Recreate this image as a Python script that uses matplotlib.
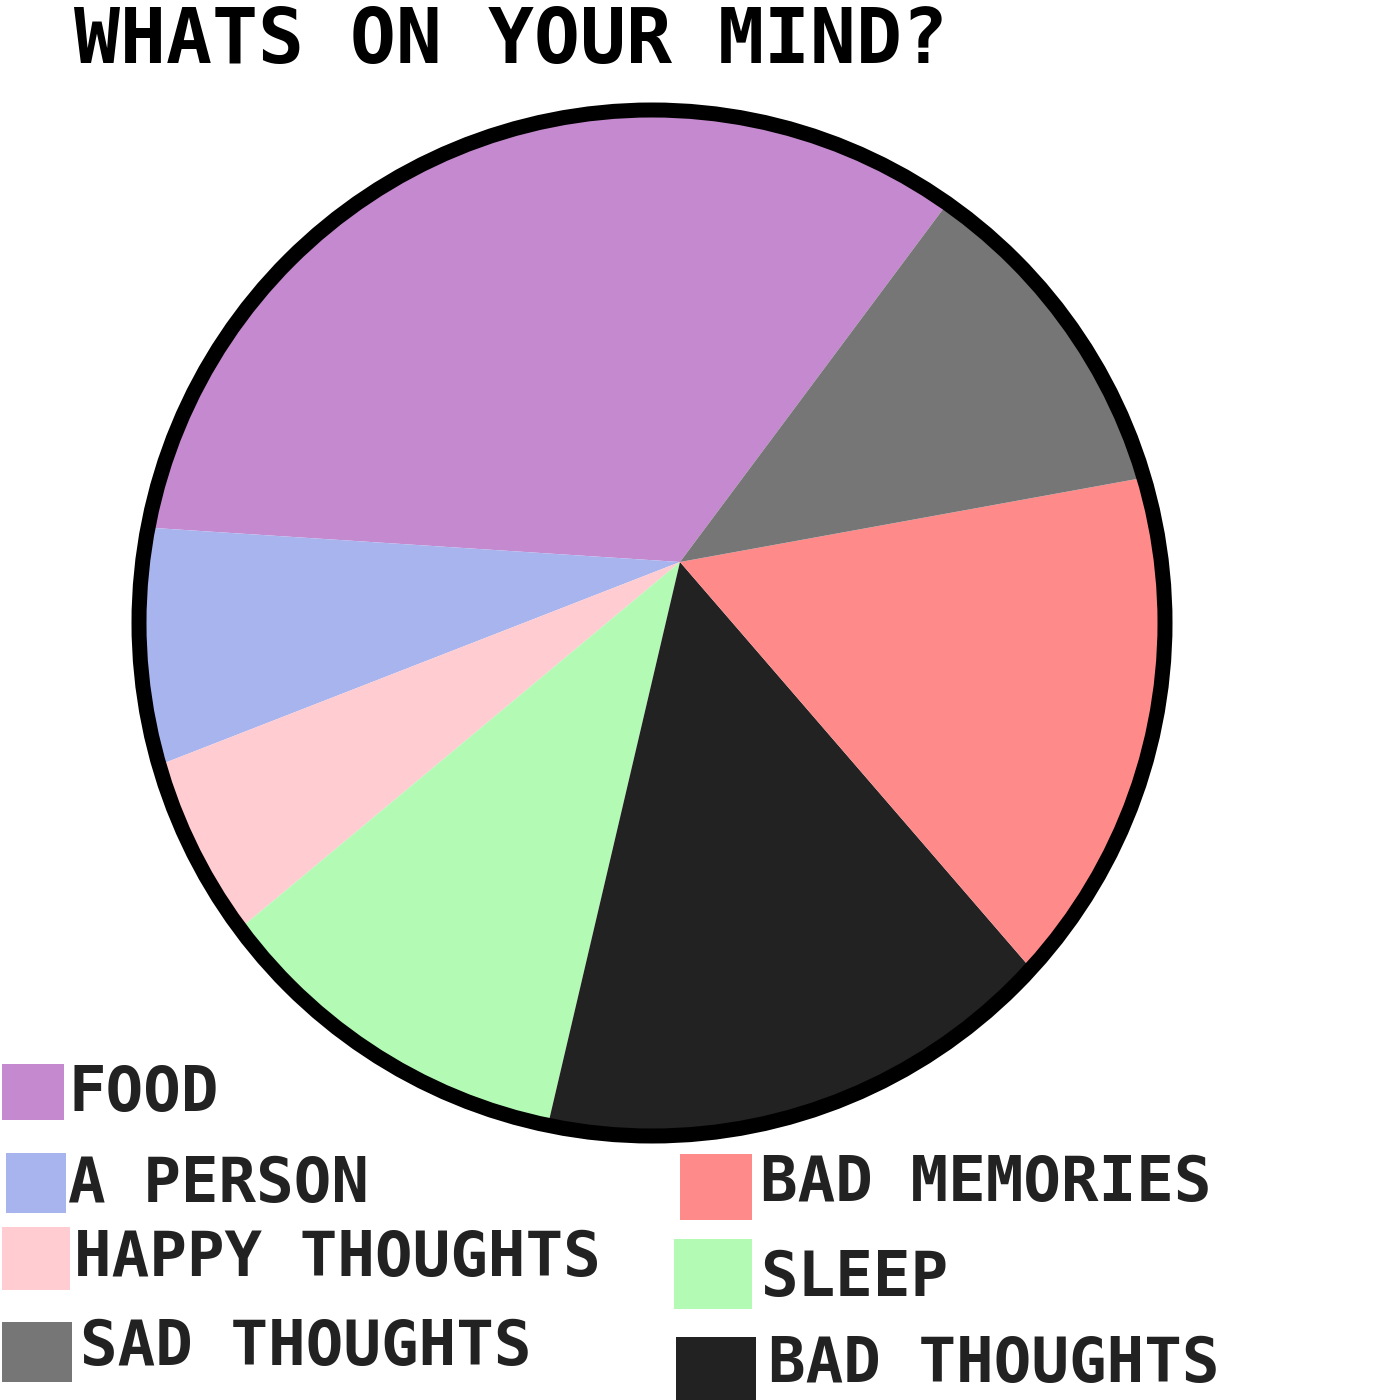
import matplotlib
matplotlib.use("Agg")
import matplotlib.pyplot as plt
from matplotlib.patches import Circle, Rectangle

# ---------------------------------------------------------------- data
labels = ["FOOD", "A PERSON", "HAPPY THOUGHTS", "SLEEP",
          "BAD THOUGHTS", "BAD MEMORIES", "SAD THOUGHTS"]
values = [123, 25, 18.5, 37, 54, 59.5, 43]
colors = ["#C589D0", "#A8B4EE", "#FFCCD2", "#B3FBB5",
          "#222222", "#FF8A8A", "#767676"]
title = "WHATS ON YOUR MIND?"

left_col = ["FOOD", "A PERSON", "HAPPY THOUGHTS", "SAD THOUGHTS"]
right_col = ["BAD MEMORIES", "SLEEP", "BAD THOUGHTS"]

W = H = 1400
DPI = 100
FONT = "DejaVu Sans Mono"

fig = plt.figure(figsize=(W / DPI, H / DPI), dpi=DPI, facecolor="white")

# overlay axes in pixel coordinates for title + legend
bg = fig.add_axes([0, 0, 1, 1])
bg.set_xlim(0, W)
bg.set_ylim(H, 0)
bg.axis("off")

# circle centre (652, 623), radius to middle of border ~513 px;
# the hand-drawn slices meet off-centre, at about (680, 562)
cx, cy, R = 652, 623, 513
apex = ((680 - cx) / R, (cy - 562) / R)
ext = 1.06
size = 2 * ext * R
ax = fig.add_axes([(cx - ext * R) / W, 1 - (cy + ext * R) / H, size / W, size / H])
wedges, _ = ax.pie(values, colors=colors, startangle=53.3, counterclock=True,
                   radius=1.4, center=apex, wedgeprops=dict(linewidth=0))
rim = Circle((0, 0), 1.0, transform=ax.transData)
for w in wedges:
    w.set_clip_path(rim)
    w.set_clip_on(True)
ax.add_patch(Circle((0, 0), 1.0, facecolor="none", edgecolor="black",
                    linewidth=15 * 72 / DPI))
ax.set_xlim(-ext, ext)
ax.set_ylim(-ext, ext)
ax.set_aspect("equal")
ax.axis("off")

bg.text(74, 42, title, fontsize=55, family=FONT, weight="bold",
        ha="left", va="center", color="black")

swatch = {
    "FOOD": (2, 1064, 62, 56),
    "A PERSON": (6, 1153, 60, 60),
    "HAPPY THOUGHTS": (2, 1227, 68, 63),
    "SAD THOUGHTS": (2, 1322, 70, 60),
    "BAD MEMORIES": (680, 1154, 72, 66),
    "SLEEP": (674, 1239, 78, 70),
    "BAD THOUGHTS": (676, 1337, 80, 63),
}
text_pos = {
    "FOOD": (68, 1094),
    "A PERSON": (68, 1185),
    "HAPPY THOUGHTS": (74, 1259),
    "SAD THOUGHTS": (80, 1348),
    "BAD MEMORIES": (760, 1184),
    "SLEEP": (760, 1279),
    "BAD THOUGHTS": (768, 1365),
}
col = dict(zip(labels, colors))
for lab in left_col + right_col:
    x, y, w, h = swatch[lab]
    bg.add_patch(Rectangle((x, y), w, h, facecolor=col[lab], edgecolor="none"))
    tx, ty = text_pos[lab]
    bg.text(tx, ty, lab, fontsize=45, family=FONT, weight="bold",
            ha="left", va="center", color="#222222")

fig.savefig("out.png", dpi=DPI, facecolor="white")
